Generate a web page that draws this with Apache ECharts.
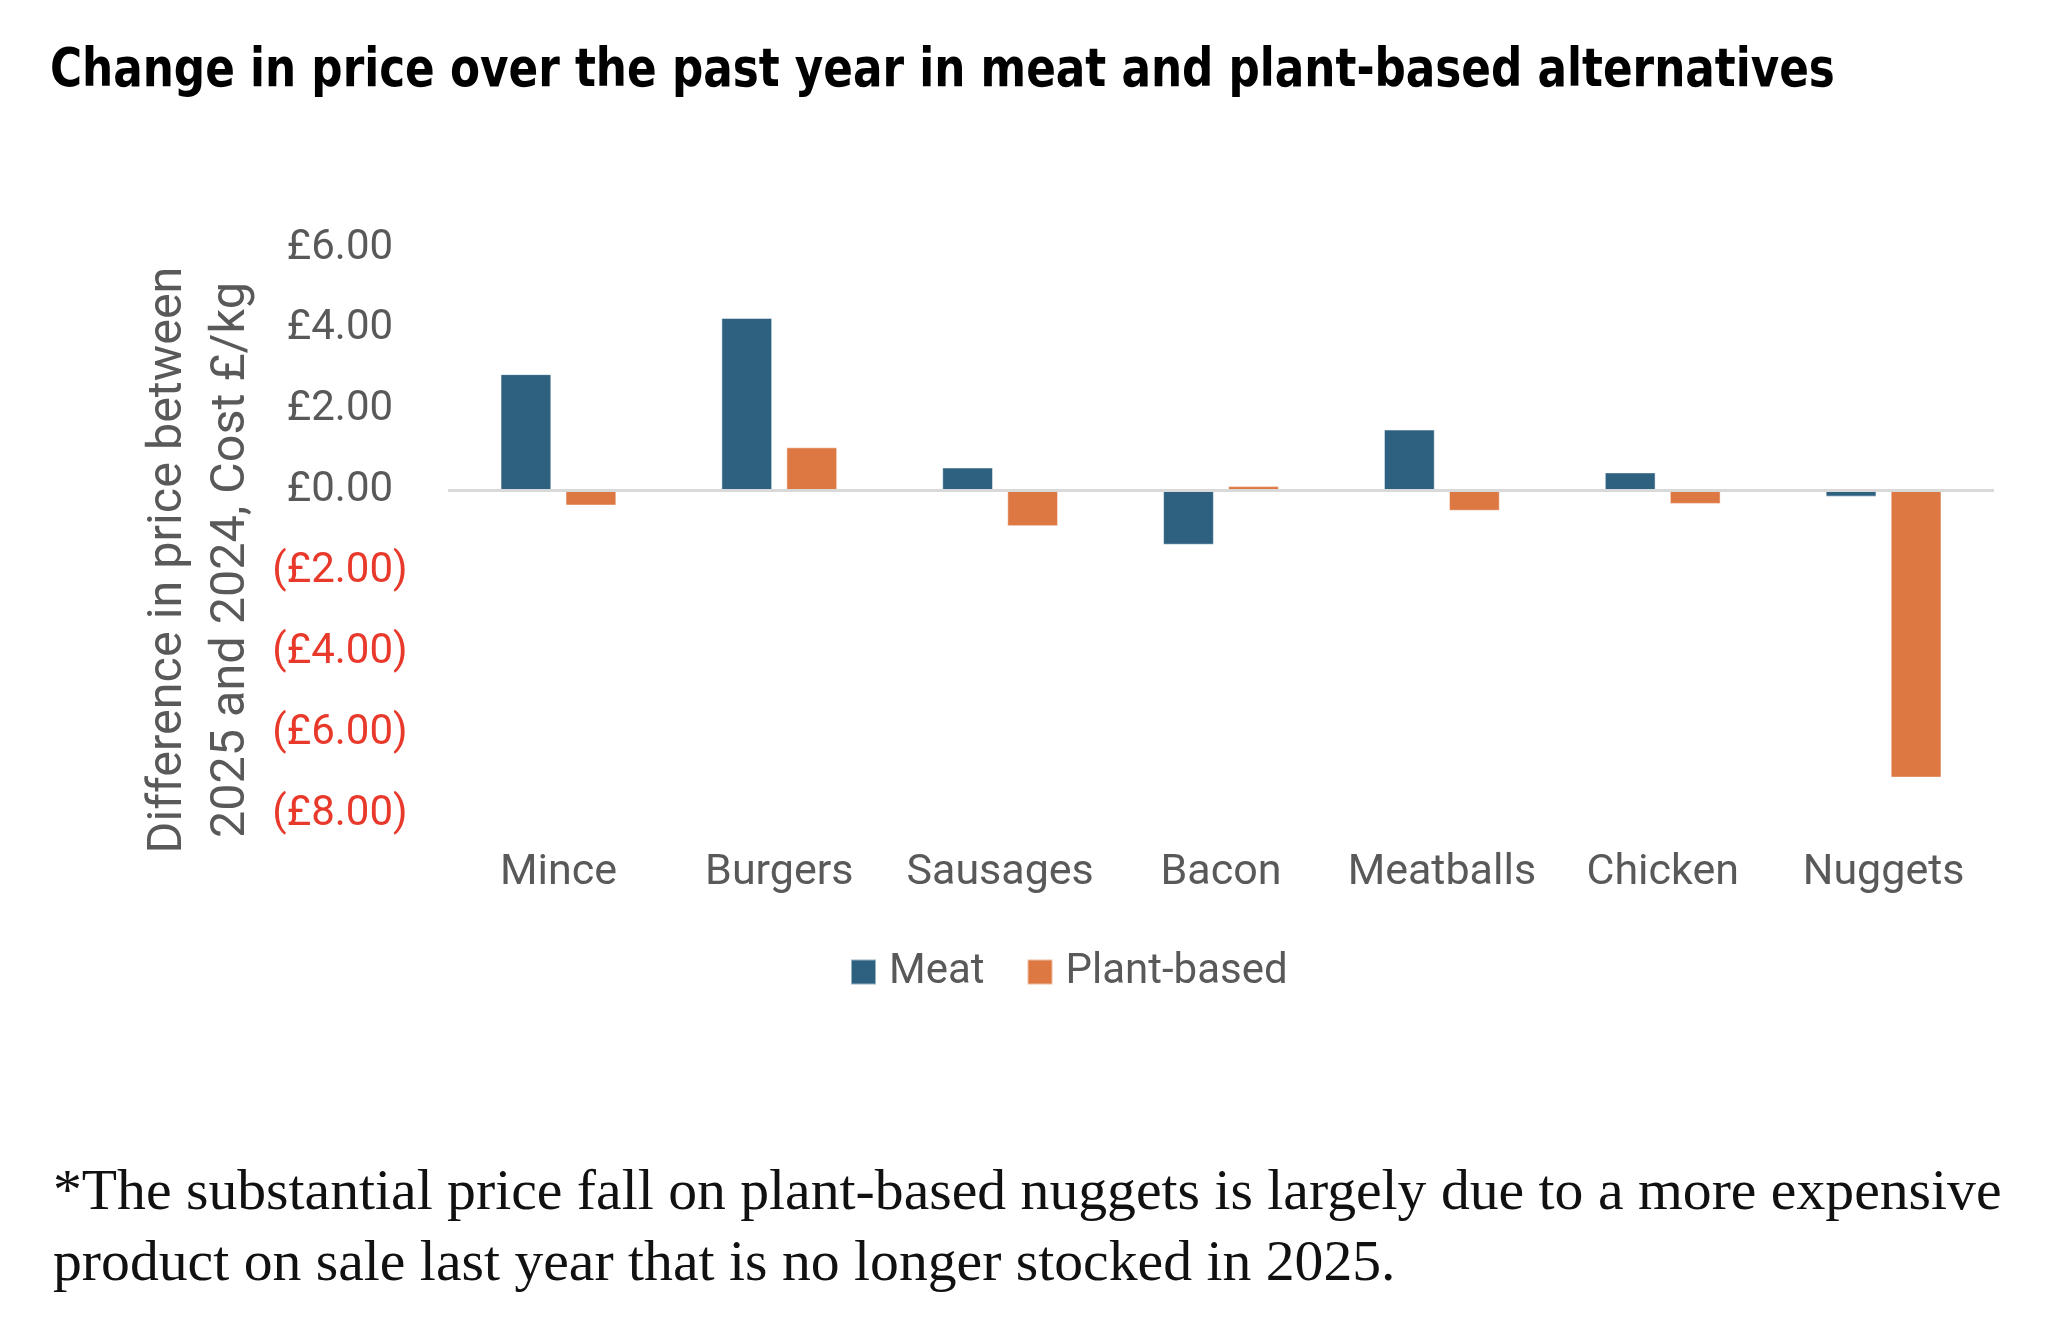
<!DOCTYPE html>
<html>
<head>
<meta charset="utf-8">
<title>Change in price over the past year</title>
<script src="https://cdn.jsdelivr.net/npm/echarts@6/dist/echarts.min.js"></script>
<style>
    html, body { margin: 0; padding: 0; background: #ffffff; }
    #main { width: 2048px; height: 1325px; }
</style>
</head>
<body>
<div id="main"></div>
<script>
// data (cost £/kg, 2025 minus 2024)
const categories = ['Mince', 'Burgers', 'Sausages', 'Bacon', 'Meatballs', 'Chicken', 'Nuggets'];
const meatValues = [2.88, 4.27, 0.57, -1.34, 1.51, 0.45, -0.15];
const plantValues = [-0.37, 1.07, -0.88, 0.11, -0.50, -0.33, -7.10];
const seriesNames = ['Meat', 'Plant-based'];
const yTicks = { min: -8, max: 6, step: 2 };

const grey = '#595959';
const red = '#e8392b';
const sans = 'Roboto, "Liberation Sans", sans-serif';

function money(v) {
    if (v < 0) return '(£' + Math.abs(v).toFixed(2) + ')';
    return '£' + v.toFixed(2);
}

(function() {
    let chart = echarts.init(document.getElementById('main'), null, { renderer: 'canvas' });
    let option = {
        backgroundColor: '#ffffff',
        animation: false,
        title: [{
            text: '*The substantial price fall on plant-based nuggets is largely due to a more expensive\nproduct on sale last year that is no longer stocked in 2025.',
            left: 48,
            top: 1153,
            textStyle: {
                fontFamily: '"Liberation Serif", "DejaVu Serif", serif',
                fontWeight: 'normal',
                fontSize: 57.7,
                lineHeight: 71,
                color: '#111111'
            }
        }],
        legend: {
            data: seriesNames,
            left: 845,
            top: 946,
            icon: 'rect',
            itemWidth: 25,
            itemHeight: 25,
            itemGap: 42,
            textStyle: { fontFamily: sans, fontSize: 42, color: grey, padding: [0, 0, 0, 8] }
        },
        grid: { left: 448, right: 54, top: 248, bottom: 511, containLabel: false },
        xAxis: {
            type: 'category',
            data: categories,
            position: 'bottom',
            axisLine: { show: false, onZero: false },
            axisTick: { show: false },
            axisLabel: { interval: 0, margin: 38, fontFamily: sans, fontSize: 43, color: grey }
        },
        yAxis: {
            type: 'value',
            min: yTicks.min,
            max: yTicks.max,
            interval: yTicks.step,
            axisLine: { show: false },
            axisTick: { show: false },
            splitLine: { show: false },
            axisLabel: {
                margin: 108,
                align: 'center',
                fontFamily: sans,
                fontSize: 42,
                formatter: money,
                color: function(v) { return Number(v) < 0 ? red : grey; }
            }
        },
        graphic: [{
            type: 'text',
            x: 50,
            y: 45,
            scaleX: 0.9,
            style: {
                text: 'Change in price over the past year in meat and plant-based alternatives',
                fontFamily: '"Liberation Sans Narrow", "DejaVu Sans Condensed", sans-serif',
                fontWeight: 'bold',
                fontSize: 54,
                fill: '#000000'
            }
        }, {
            type: 'text',
            x: 200,
            y: 560,
            rotation: Math.PI / 2,
            style: {
                text: 'Difference in price between\n2025 and 2024, Cost £/kg',
                fontFamily: sans,
                fontSize: 48.5,
                lineHeight: 63,
                fill: grey,
                align: 'center',
                verticalAlign: 'middle'
            }
        }],
        series: [{
            name: seriesNames[0],
            type: 'bar',
            data: meatValues,
            barWidth: '23%',
            barGap: '28%',
            itemStyle: { color: '#2e6080', borderColor: 'rgba(255,255,255,0.5)', borderWidth: 1 },
            markLine: {
                silent: true,
                symbol: 'none',
                label: { show: false },
                lineStyle: { color: '#d9d9d9', width: 3, type: 'solid' },
                data: [{ yAxis: 0 }]
            }
        }, {
            name: seriesNames[1],
            type: 'bar',
            data: plantValues,
            barWidth: '23%',
            itemStyle: { color: '#dd7843', borderColor: 'rgba(255,255,255,0.5)', borderWidth: 1 }
        }]
    };
    chart.setOption(option);
})();
</script>
</body>
</html>
